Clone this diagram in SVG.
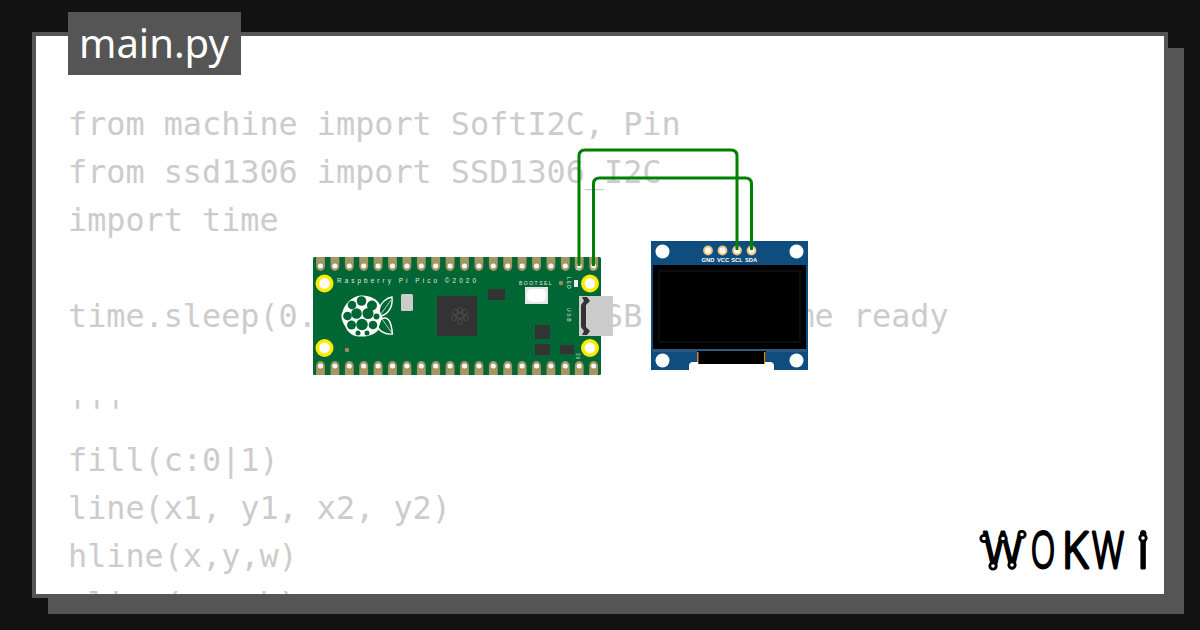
<svg xmlns="http://www.w3.org/2000/svg" xmlns:xlink="http://www.w3.org/1999/xlink" width="1200" height="630" viewBox="0 0 1200 630">
<style>
.code{font-family:"DejaVu Sans Mono","Liberation Mono",monospace;font-size:31.8px;fill:#ccc}
.wire{fill:none;stroke:#008000;stroke-width:3}
.pl{font-family:"Liberation Sans",Arial,sans-serif;fill:#e6e6e6}
.ol{font-family:"Liberation Sans",Arial,sans-serif;fill:#fff;font-size:5.8px;text-anchor:middle;font-weight:700}
.wk{font-family:"Open Sans","DejaVu Sans",sans-serif;font-size:50px;font-weight:300;fill:#000;stroke:#000;stroke-width:3;stroke-linejoin:round;stroke-linecap:round}
.nd{fill:#fff;stroke:#000;stroke-width:2.8}
.cell{fill:#006633}
</style>
<defs>
<g id="padT"><path d="M-4.4 0H4.4V9.5A4.4 4.400 0 0 1-4.4 9.500Z" fill="#a59666"/><circle cy="9" r="2.5" fill="#fff"/></g>
<g id="padB"><path d="M-4.4 0H4.4V-9.5A4.4 4.400 0 0 0-4.4 -9.500Z" fill="#a59666"/><circle cy="-9" r="2.5" fill="#fff"/></g>
<g id="yh"><circle r="9" fill="#ffea00"/><circle r="5.4" fill="#fff"/></g>
<clipPath id="card"><rect x="36" y="36" width="1128" height="558"/></clipPath>
</defs>
<rect width="1200" height="630" fill="#121212"/>
<rect x="48" y="48" width="1136" height="566" fill="#555"/>
<rect x="34" y="34" width="1132" height="562" fill="#fff" stroke="#555" stroke-width="4"/>
<g clip-path="url(#card)">
<text class="code" x="68" y="135">from machine import SoftI2C, Pin</text>
<text class="code" x="68" y="183">from ssd1306 import SSD1306_I2C</text>
<text class="code" x="68" y="231">import time</text>
<text class="code" x="68" y="327">time.sleep(0.1) # Wait for USB to become ready</text>
<text class="code" x="68" y="423">'''</text>
<text class="code" x="68" y="471">fill(c:0|1)</text>
<text class="code" x="68" y="519">line(x1, y1, x2, y2)</text>
<text class="code" x="68" y="567">hline(x,y,w)</text>
<text class="code" x="68" y="615">vline(x,y,h)</text>
</g>
<rect x="68" y="12" width="173" height="63" fill="#555"/>
<text x="79" y="58" font-family="'Noto Sans','Open Sans',sans-serif" font-size="40" fill="#fff">main.py</text>

<g id="pico">
<rect x="313" y="257" width="288" height="118" rx="1.5" fill="#006633"/>
<g id="pico-pins-top">
<use xlink:href="#padT" x="320.5" y="257"/><use xlink:href="#padT" x="334.9" y="257"/><use xlink:href="#padT" x="349.3" y="257"/><use xlink:href="#padT" x="363.7" y="257"/><use xlink:href="#padT" x="378.1" y="257"/><use xlink:href="#padT" x="392.5" y="257"/><use xlink:href="#padT" x="406.9" y="257"/><use xlink:href="#padT" x="421.3" y="257"/><use xlink:href="#padT" x="435.7" y="257"/><use xlink:href="#padT" x="450.1" y="257"/><use xlink:href="#padT" x="464.5" y="257"/><use xlink:href="#padT" x="478.9" y="257"/><use xlink:href="#padT" x="493.3" y="257"/><use xlink:href="#padT" x="507.7" y="257"/><use xlink:href="#padT" x="522.1" y="257"/><use xlink:href="#padT" x="536.5" y="257"/><use xlink:href="#padT" x="550.9" y="257"/><use xlink:href="#padT" x="565.3" y="257"/><use xlink:href="#padT" x="579.2" y="257"/><use xlink:href="#padT" x="593.6" y="257"/>
</g>
<g id="pico-pins-bottom">
<use xlink:href="#padB" x="320.5" y="375"/><use xlink:href="#padB" x="334.9" y="375"/><use xlink:href="#padB" x="349.3" y="375"/><use xlink:href="#padB" x="363.7" y="375"/><use xlink:href="#padB" x="378.1" y="375"/><use xlink:href="#padB" x="392.5" y="375"/><use xlink:href="#padB" x="406.9" y="375"/><use xlink:href="#padB" x="421.3" y="375"/><use xlink:href="#padB" x="435.7" y="375"/><use xlink:href="#padB" x="450.1" y="375"/><use xlink:href="#padB" x="464.5" y="375"/><use xlink:href="#padB" x="478.9" y="375"/><use xlink:href="#padB" x="493.3" y="375"/><use xlink:href="#padB" x="507.7" y="375"/><use xlink:href="#padB" x="522.1" y="375"/><use xlink:href="#padB" x="536.5" y="375"/><use xlink:href="#padB" x="550.9" y="375"/><use xlink:href="#padB" x="565.3" y="375"/><use xlink:href="#padB" x="579.2" y="375"/><use xlink:href="#padB" x="593.6" y="375"/>
</g>
<use xlink:href="#yh" x="324.500" y="283.500"/><use xlink:href="#yh" x="324.500" y="348"/><use xlink:href="#yh" x="590" y="283.500"/><use xlink:href="#yh" x="590" y="348"/>
<text class="pl" x="337" y="282.500" font-size="6.4" letter-spacing="3.05">Raspberry Pi Pico ©2020</text>
<text class="pl" x="519" y="284.500" font-size="5" letter-spacing="1.5">BOOTSEL</text>
<text class="pl" transform="translate(566.500 277) rotate(90)" font-size="5" letter-spacing="1">LED</text>
<text class="pl" transform="translate(566.500 308) rotate(90)" font-size="5" letter-spacing="1.6">USB</text>
<text class="pl" transform="translate(576 268) rotate(90)" font-size="4.500">2</text>
<text class="pl" transform="translate(591 268) rotate(90)" font-size="4.500">1</text>
<text class="pl" transform="translate(576 353) rotate(90)" font-size="4.500" letter-spacing="1">39</text>
<rect x="401" y="294" width="12" height="17" rx="1.500" fill="#ccc"/>
<rect x="437" y="296" width="40" height="40" fill="#333"/>
<g fill="none" stroke="#555" stroke-width=".7"><circle cx="460" cy="316" r="3"/><circle cx="455" cy="312" r="2.500"/><circle cx="465" cy="312" r="2.500"/><circle cx="454" cy="318" r="2.500"/><circle cx="466" cy="318" r="2.500"/><circle cx="460" cy="322" r="2.500"/><circle cx="460" cy="310" r="2.500"/></g>
<rect x="488" y="289" width="17" height="11" fill="#333"/>
<rect x="525" y="287" width="23" height="17" fill="#e6e6e6"/><rect x="527" y="289" width="19" height="13" rx="5" fill="#fff"/>
<circle cx="561" cy="283" r="2.200" fill="#a08c5b"/><circle cx="347" cy="350" r="2.200" fill="#a08c5b"/>
<rect x="574" y="280" width="4" height="7" fill="#eee"/>
<rect x="535" y="325" width="15" height="14" fill="#333"/><rect x="535" y="344" width="15" height="11" fill="#333"/><rect x="560" y="345" width="14" height="9" fill="#333"/>
<rect x="579" y="296" width="34" height="40" fill="#ccc"/>
<path d="M582 297L587 297L590 301L586 305L586 327L590 331L587 335L582 335L584 331L581 327V305L584 301Z" fill="#333"/>
<g id="pico-logo">
<path d="M361 295.500C369 295 378 299 380 305C383 311 383 323 379 329C375 335 367 337 360 336.500C352 337 347 331 345 326C342 321 340 316 342.500 312C344 305 352 296 361 295.500Z" fill="#fff"/>
<g class="cell"><circle cx="361.500" cy="301" r="4.800"/><circle cx="352" cy="305" r="4.300"/><circle cx="372" cy="305.500" r="5"/><circle cx="347.500" cy="316" r="4.300"/><circle cx="356.500" cy="313.500" r="5.300"/><circle cx="368" cy="313.500" r="5.500"/><circle cx="376.500" cy="316.500" r="3"/><circle cx="351.500" cy="325" r="4.500"/><circle cx="362" cy="324.500" r="5.800"/><circle cx="373" cy="325" r="4.300"/><circle cx="358" cy="333" r="2.500"/><circle cx="367" cy="333" r="2.500"/></g>
<path d="M379 311C380 303 386 298 392 297C393 306 389 314 381 316Z" fill="#006633" stroke="#fff" stroke-width="1.400"/>
<path d="M381 319C387 316 391 319 392.500 334C386 335 379 331 378 327Z" fill="#006633" stroke="#fff" stroke-width="1.400"/>
<path d="M381 314L391 300M382 319L392 333" stroke="#fff" stroke-width=".7" fill="none"/>
</g>
</g>

<g id="oled">
<rect x="651" y="241" width="157" height="129" fill="#0e4d7e"/>
<rect x="653" y="265" width="153" height="84" fill="#000"/>
<rect x="659" y="271" width="141" height="71" fill="none" stroke="#222" stroke-width=".8"/>
<rect x="653" y="349" width="153" height="3" fill="#2c5a7e"/>
<rect x="697" y="351" width="69" height="13" fill="#000"/><rect x="697" y="352" width="1.500" height="12" fill="#c68a3c"/><rect x="764" y="352" width="1.500" height="12" fill="#c68a3c"/>
<path d="M689 370V366A4 4 0 0 1 693 362H698V364H765V362H770A4 4 0 0 1 774 366V370Z" fill="#fff"/>
<circle cx="662.500" cy="251.500" r="7" fill="#fff"/><circle cx="796.500" cy="251.500" r="7" fill="#fff"/><circle cx="662.500" cy="360.500" r="7" fill="#fff"/><circle cx="796.500" cy="360.500" r="7" fill="#fff"/>
<g fill="#fff" stroke="#ecc078" stroke-width="1.800"><circle cx="708" cy="250.500" r="4"/><circle cx="722.500" cy="250.500" r="4"/><circle cx="737" cy="250.500" r="4"/><circle cx="751.500" cy="250.500" r="4"/></g>
<text class="ol" x="708" y="261.500">GND</text><text class="ol" x="723" y="261.500">VCC</text><text class="ol" x="737" y="261.500">SCL</text><text class="ol" x="751" y="261.500">SDA</text>
</g>

<g id="connectors">
<path class="wire" d="M579 266V156Q579 150 585 150H731Q737 150 737 156V250"/>
<path class="wire" d="M593.500 266V184Q593.500 178 599.500 178H745.500Q751.500 178 751.500 184V250"/>
</g>

<g id="wokwi-logo">
<text class="wk" y="568"><tspan x="983" textLength="40" lengthAdjust="spacingAndGlyphs">W</tspan><tspan x="1031" textLength="24" lengthAdjust="spacingAndGlyphs">O</tspan><tspan x="1062" textLength="26" lengthAdjust="spacingAndGlyphs">K</tspan><tspan x="1092" textLength="32" lengthAdjust="spacingAndGlyphs">W</tspan><tspan x="1137.500">i</tspan></text>
<circle class="nd" cx="984" cy="538.500" r="3.200"/><circle class="nd" cx="1003" cy="538.500" r="3.200"/><circle class="nd" cx="1022" cy="534.500" r="3.200"/><circle class="nd" cx="993" cy="566" r="3.200"/><circle class="nd" cx="1012" cy="565" r="3.200"/><circle class="nd" cx="1143" cy="538" r="3.200"/>
</g>
</svg>
